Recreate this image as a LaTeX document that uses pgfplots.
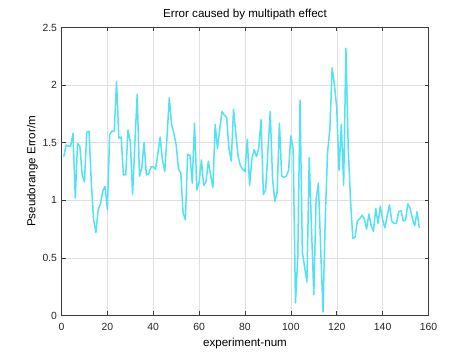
\documentclass[border=0pt]{standalone}
\usepackage{pgfplots}
\pgfplotsset{compat=1.18}
\usepackage{pgfplotstable}
\usepackage{fontspec}
\setmainfont{Liberation Sans}
\definecolor{linecyan}{RGB}{85,225,245}
\definecolor{axisgray}{RGB}{60,60,60}
\pgfplotstableread{
x y
1 1.38
2 1.48
3 1.47
4 1.47
5 1.58
6 1.02
7 1.49
8 1.47
9 1.22
10 1.16
11 1.59
12 1.60
13 1.15
14 0.83
15 0.72
16 0.92
17 0.97
18 1.08
19 1.12
20 0.92
21 1.57
22 1.60
23 1.60
24 2.03
25 1.54
26 1.55
27 1.22
28 1.22
29 1.61
30 1.51
31 1.05
32 1.50
33 1.92
34 1.21
35 1.28
36 1.50
37 1.22
38 1.23
39 1.29
40 1.29
41 1.27
42 1.40
43 1.55
44 1.35
45 1.25
46 1.55
47 1.89
48 1.66
49 1.58
50 1.48
51 1.27
52 1.24
53 0.89
54 0.83
55 1.40
56 1.39
57 1.15
58 1.67
59 1.09
60 1.16
61 1.35
62 1.13
63 1.16
64 1.34
65 1.22
66 1.11
67 1.66
68 1.45
69 1.62
70 1.77
71 1.74
72 1.72
73 1.45
74 1.34
75 1.79
76 1.58
77 1.38
78 1.30
79 1.27
80 1.25
81 1.53
82 1.13
83 1.36
84 1.44
85 1.38
86 1.45
87 1.70
88 1.05
89 1.09
90 1.43
91 1.77
92 1.19
93 0.99
94 1.07
95 1.67
96 1.21
97 1.20
98 1.21
99 1.26
100 1.56
101 1.44
102 0.11
103 0.50
104 1.87
105 0.55
106 0.42
107 0.29
108 1.37
109 0.75
110 0.18
111 1.01
112 1.15
113 0.58
114 0.03
115 0.85
116 1.42
117 1.62
118 2.15
119 2.00
120 1.80
121 1.26
122 1.66
123 1.13
124 2.32
125 1.45
126 1.00
127 0.67
128 0.68
129 0.82
130 0.84
131 0.87
132 0.84
133 0.75
134 0.88
135 0.78
136 0.73
137 0.93
138 0.80
139 0.95
140 0.83
141 0.76
142 0.87
143 0.96
144 0.82
145 0.80
146 0.80
147 0.90
148 0.91
149 0.82
150 0.83
151 0.97
152 0.93
153 0.84
154 0.78
155 0.90
156 0.76
}\datatable
\begin{document}
\begin{tikzpicture}
\useasboundingbox (-61.5pt,-39.5pt) rectangle (412.5pt,315.5pt);
\begin{axis}[
  at={(0pt,0pt)}, anchor=south west,
  scale only axis,
  width=367pt, height=288pt,
  xmin=0, xmax=160, ymin=0, ymax=2.5,
  xtick={0,20,...,160},
  ytick={0,0.5,1,1.5,2,2.5},
  yticklabels={0,0.5,1,1.5,2,2.5},
  tick align=inside,
  major tick length=4pt,
  axis line style={axisgray, line width=0.6pt},
  every tick/.style={axisgray, line width=0.6pt},
  grid=major,
  major grid style={black!12, line width=0.5pt},
  tick label style={font=\fontsize{10.4}{12}\selectfont, text=black!85},
  /pgf/number format/assume math mode=true,
  xticklabel style={yshift=-4.3pt},
  yticklabel style={xshift=-1pt},
  title={Error caused by multipath effect},
  title style={font=\fontsize{11.6}{13}\selectfont, yshift=-1.8pt},
  xlabel={experiment-num},
  ylabel={Pseudorange Error/m},
  label style={font=\fontsize{11.6}{13}\selectfont},
  xlabel style={at={([yshift=-28pt]axis description cs:0.5,0)}, anchor=center},
  ylabel style={at={([xshift=-29pt]axis description cs:0,0.5)}, anchor=center, rotate=0},
]
\addplot[linecyan, line width=1.5pt, line join=round] table[x=x, y=y] {\datatable};
\end{axis}
\end{tikzpicture}
\end{document}
